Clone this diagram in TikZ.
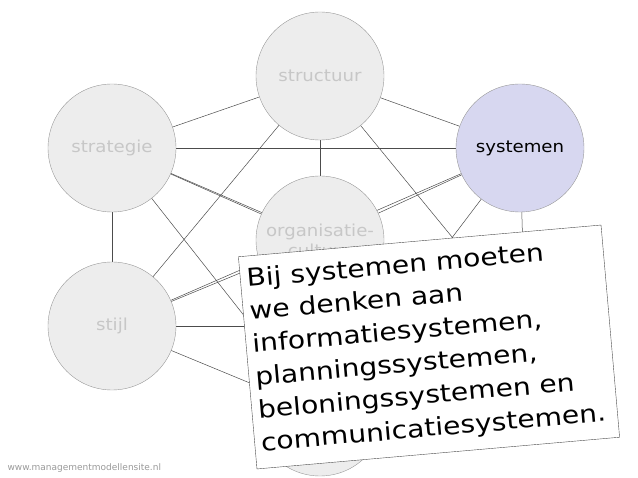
\documentclass[tikz,border=0pt]{standalone}
\usepackage{fontspec}
\setmainfont{DejaVu Sans}
\newfontfamily\boxfont[FakeStretch=1.15]{DejaVu Sans}
\newfontfamily\circfont[FakeStretch=1.1]{DejaVu Sans}
\begin{document}
\begin{tikzpicture}[x=1pt,y=-1pt,
  circ/.style={circle,draw=gray!80,fill=black!7,minimum size=128pt,inner sep=0pt,text=black!22,font=\circfont\fontsize{16.5}{20}\selectfont,align=center},
  act/.style={circ,fill={rgb,255:red,215;green,215;blue,240},text=black},
  edge/.style={draw=black!70,line width=0.5pt}]
\useasboundingbox (0,0) rectangle (638,478);
\coordinate (c1) at (320,76);
\coordinate (c2) at (112,148);
\coordinate (c3) at (520,148);
\coordinate (c4) at (320,240);
\coordinate (c5) at (112,326);
\coordinate (c6) at (525,326);
\coordinate (c7) at (320,412);
\foreach \a/\b in {1/2,1/3,1/4,1/5,1/6,1/7,2/3,2/4,2/5,2/6,2/7,3/4,3/5,3/6,3/7,4/5,4/6,4/7,5/6,5/7,6/7}
  \draw[edge] (c\a) -- (c\b);
\node[circ] (structuur) at (c1) {structuur};
\node[circ] (strategie) at (c2) {strategie};
\node[act] (systemen) at (c3) {systemen};
\node[circ] (org) at (c4) {organisatie-\\cultuur};
\node[circ] (stijl) at (c5) {stijl};
\node[circ] (vaard) at (c6) {};
\node[circ] (personeel) at (c7) {};
\node[draw=black!70,fill=white,rotate=5,minimum width=364pt,minimum height=213pt,inner sep=0pt] (box) at (429,347) {};
\node[rotate=5,align=left,font=\boxfont\fontsize{24.5}{33}\selectfont,anchor=west] (txt) at (box.west) [xshift=3pt] {Bij systemen moeten\\we denken aan\\informatiesystemen,\\planningssystemen,\\beloningssystemen en\\communicatiesystemen.};
\node[anchor=west,text=black!40,font=\fontsize{9}{11}\selectfont] (web) at (4,468) {www.managementmodellensite.nl};
\end{tikzpicture}
\end{document}
